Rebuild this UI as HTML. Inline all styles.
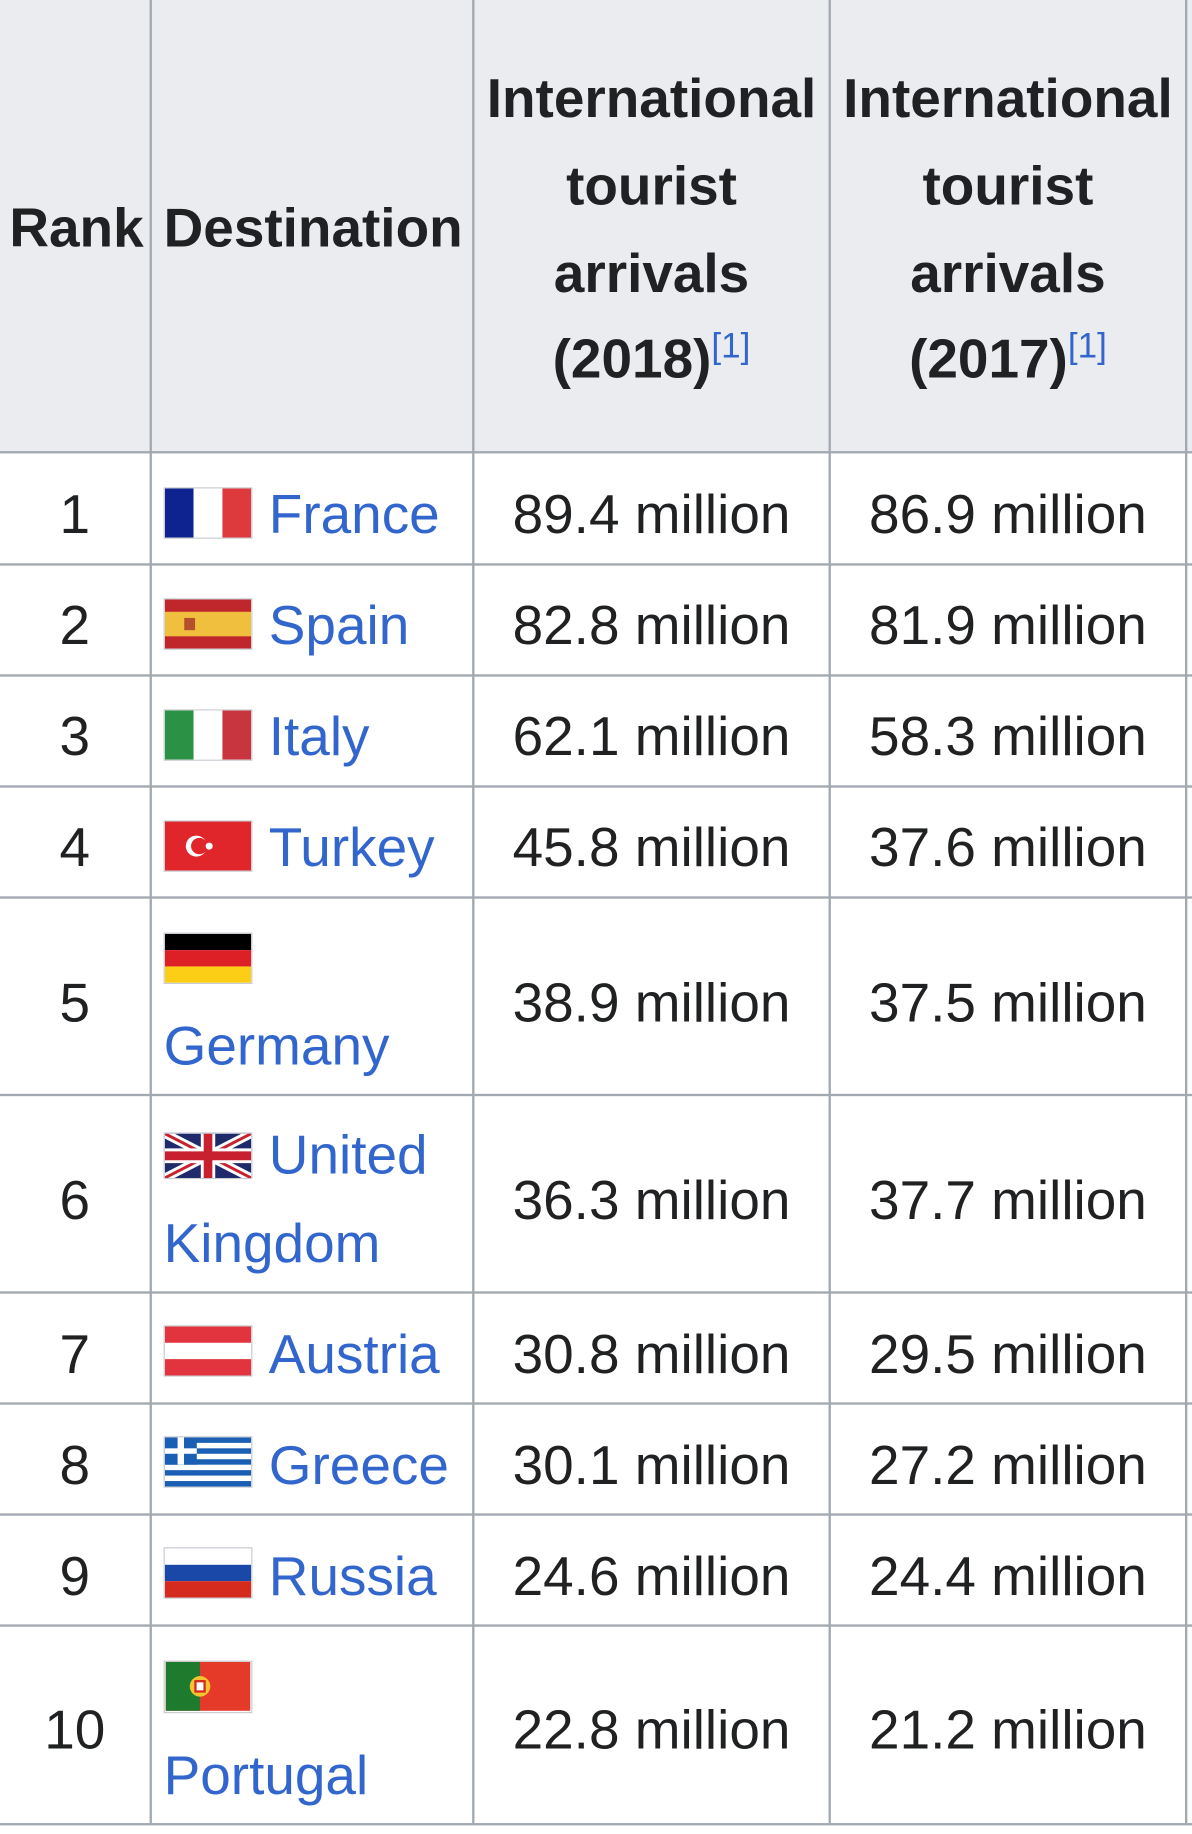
<!DOCTYPE html>
<html><head><meta charset="utf-8"><style>
html,body{margin:0;padding:0;background:#fff;}
body{width:1192px;height:1833px;overflow:hidden;position:relative;}
#c{position:absolute;left:0;top:0;width:1020px;height:1569px;transform:scale(1.16863);transform-origin:0 0;font-family:"Liberation Sans",Arial,sans-serif;color:#202122;}
.hd{position:absolute;left:0;top:0;width:1020px;height:387px;background:#eaecf0;}
.v{position:absolute;top:0;width:2px;height:1561px;background:#a2a9b1;}
.h{position:absolute;left:0;width:1020px;height:2px;background:#a2a9b1;}
.t{position:absolute;height:60px;line-height:60px;font-size:47px;white-space:nowrap;margin-top:2px;}
.c{text-align:center;}
.b{font-weight:bold;}
.a{color:#3366cc;}
sup{font-size:30px;color:#3366cc;font-weight:normal;vertical-align:0;position:relative;top:-17px;}
.f{position:absolute;width:74px;height:42px;border:1px solid #c8ccd1;overflow:hidden;}
.f svg{display:block;width:74px;height:42px;}
</style></head><body><div id="c">
<div class="hd"></div>
<div class="v" style="left:128px"></div>
<div class="v" style="left:404px"></div>
<div class="v" style="left:709px"></div>
<div class="v" style="left:1014px"></div>
<div class="h" style="top:386px"></div>
<div class="h" style="top:482px"></div>
<div class="h" style="top:577px"></div>
<div class="h" style="top:672px"></div>
<div class="h" style="top:767px"></div>
<div class="h" style="top:936px"></div>
<div class="h" style="top:1105px"></div>
<div class="h" style="top:1200px"></div>
<div class="h" style="top:1295px"></div>
<div class="h" style="top:1390px"></div>
<div class="h" style="top:1560px"></div>

<div class="t b" style="left:8px;top:163px">Rank</div>
<div class="t b" style="left:140px;top:163px">Destination</div>
<div class="t b c" style="left:405px;width:305px;top:52px">International</div>
<div class="t b c" style="left:405px;width:305px;top:127px">tourist</div>
<div class="t b c" style="left:405px;width:305px;top:202px">arrivals</div>
<div class="t b c" style="left:405px;width:305px;top:275px">(2018)<sup>[1]</sup></div>
<div class="t b c" style="left:710px;width:305px;top:52px">International</div>
<div class="t b c" style="left:710px;width:305px;top:127px">tourist</div>
<div class="t b c" style="left:710px;width:305px;top:202px">arrivals</div>
<div class="t b c" style="left:710px;width:305px;top:275px">(2017)<sup>[1]</sup></div>

<div class="t c" style="left:0;width:128px;top:408px">1</div>
<div class="t c" style="left:0;width:128px;top:503px">2</div>
<div class="t c" style="left:0;width:128px;top:598px">3</div>
<div class="t c" style="left:0;width:128px;top:693px">4</div>
<div class="t c" style="left:0;width:128px;top:826px">5</div>
<div class="t c" style="left:0;width:128px;top:995px">6</div>
<div class="t c" style="left:0;width:128px;top:1127px">7</div>
<div class="t c" style="left:0;width:128px;top:1222px">8</div>
<div class="t c" style="left:0;width:128px;top:1317px">9</div>
<div class="t c" style="left:0;width:128px;top:1448px">10</div>

<div class="f" style="left:140px;top:417px"><svg viewBox="0 0 3 2" preserveAspectRatio="none"><rect width="1" height="2" fill="#0f2390"/><rect x="1" width="1" height="2" fill="#fff"/><rect x="2" width="1" height="2" fill="#de3a3e"/></svg></div>
<div class="f" style="left:140px;top:512px"><svg viewBox="0 0 4 4" preserveAspectRatio="none"><rect width="4" height="4" fill="#f1bf3e"/><rect width="4" height="1" fill="#c0272d"/><rect y="3" width="4" height="1" fill="#c0272d"/><rect x="0.9" y="1.5" width="0.5" height="1" fill="#b5502c"/></svg></div>
<div class="f" style="left:140px;top:607px"><svg viewBox="0 0 3 2" preserveAspectRatio="none"><rect width="1" height="2" fill="#2b9145"/><rect x="1" width="1" height="2" fill="#fff"/><rect x="2" width="1" height="2" fill="#c9353e"/></svg></div>
<div class="f" style="left:140px;top:702px"><svg viewBox="0 0 74 42"><rect width="74" height="42" fill="#e0262b"/><circle cx="27" cy="21" r="9" fill="#fff"/><circle cx="29.5" cy="21" r="7" fill="#e0262b"/><circle cx="38" cy="21" r="3" fill="#fff"/></svg></div>
<div class="f" style="left:140px;top:798px"><svg viewBox="0 0 3 3" preserveAspectRatio="none"><rect width="3" height="1" fill="#000"/><rect y="1" width="3" height="1" fill="#dd1f26"/><rect y="2" width="3" height="1" fill="#fccf16"/></svg></div>
<div class="f" style="left:140px;top:969px;height:38px"><svg viewBox="0 0 60 30" preserveAspectRatio="none" style="height:38px"><rect width="60" height="30" fill="#1f2a6b"/><path d="M0 0L60 30M60 0L0 30" stroke="#fff" stroke-width="6"/><path d="M0 0L60 30M60 0L0 30" stroke="#c8202f" stroke-width="2"/><path d="M30 0V30M0 15H60" stroke="#fff" stroke-width="10"/><path d="M30 0V30M0 15H60" stroke="#c8202f" stroke-width="6"/></svg></div>
<div class="f" style="left:140px;top:1134px"><svg viewBox="0 0 3 3" preserveAspectRatio="none"><rect width="3" height="3" fill="#e1343f"/><rect y="1" width="3" height="1" fill="#fff"/></svg></div>
<div class="f" style="left:140px;top:1229px"><svg viewBox="0 0 27 18" preserveAspectRatio="none"><rect width="27" height="18" fill="#1a5fb4"/><g fill="#fff"><rect y="2" width="27" height="2"/><rect y="6" width="27" height="2"/><rect y="10" width="27" height="2"/><rect y="14" width="27" height="2"/></g><rect width="10" height="10" fill="#1a5fb4"/><rect x="4" width="2" height="10" fill="#fff"/><rect y="4" width="10" height="2" fill="#fff"/></svg></div>
<div class="f" style="left:140px;top:1324px"><svg viewBox="0 0 3 3" preserveAspectRatio="none"><rect width="3" height="1" fill="#fff"/><rect y="1" width="3" height="1" fill="#1a48a8"/><rect y="2" width="3" height="1" fill="#d52b1e"/></svg></div>
<div class="f" style="left:140px;top:1421px;height:43px"><svg viewBox="0 0 74 43"><rect width="74" height="43" fill="#e53a2a"/><rect width="30" height="43" fill="#1e7a2c"/><circle cx="30" cy="21.5" r="9" fill="#f4c430"/><rect x="26" y="17" width="8" height="9" fill="#fff" stroke="#d52b1e" stroke-width="2"/></svg></div>

<div class="t a" style="left:230px;top:408px">France</div>
<div class="t a" style="left:230px;top:503px">Spain</div>
<div class="t a" style="left:230px;top:598px">Italy</div>
<div class="t a" style="left:230px;top:693px">Turkey</div>
<div class="t a" style="left:140px;top:863px">Germany</div>
<div class="t a" style="left:230px;top:956px">United</div>
<div class="t a" style="left:140px;top:1032px">Kingdom</div>
<div class="t a" style="left:230px;top:1127px">Austria</div>
<div class="t a" style="left:230px;top:1222px">Greece</div>
<div class="t a" style="left:230px;top:1317px">Russia</div>
<div class="t a" style="left:140px;top:1487px">Portugal</div>

<div class="t c" style="left:405px;width:305px;top:408px">89.4 million</div>
<div class="t c" style="left:710px;width:305px;top:408px">86.9 million</div>
<div class="t c" style="left:405px;width:305px;top:503px">82.8 million</div>
<div class="t c" style="left:710px;width:305px;top:503px">81.9 million</div>
<div class="t c" style="left:405px;width:305px;top:598px">62.1 million</div>
<div class="t c" style="left:710px;width:305px;top:598px">58.3 million</div>
<div class="t c" style="left:405px;width:305px;top:693px">45.8 million</div>
<div class="t c" style="left:710px;width:305px;top:693px">37.6 million</div>
<div class="t c" style="left:405px;width:305px;top:826px">38.9 million</div>
<div class="t c" style="left:710px;width:305px;top:826px">37.5 million</div>
<div class="t c" style="left:405px;width:305px;top:995px">36.3 million</div>
<div class="t c" style="left:710px;width:305px;top:995px">37.7 million</div>
<div class="t c" style="left:405px;width:305px;top:1127px">30.8 million</div>
<div class="t c" style="left:710px;width:305px;top:1127px">29.5 million</div>
<div class="t c" style="left:405px;width:305px;top:1222px">30.1 million</div>
<div class="t c" style="left:710px;width:305px;top:1222px">27.2 million</div>
<div class="t c" style="left:405px;width:305px;top:1317px">24.6 million</div>
<div class="t c" style="left:710px;width:305px;top:1317px">24.4 million</div>
<div class="t c" style="left:405px;width:305px;top:1448px">22.8 million</div>
<div class="t c" style="left:710px;width:305px;top:1448px">21.2 million</div>
</div></body></html>
